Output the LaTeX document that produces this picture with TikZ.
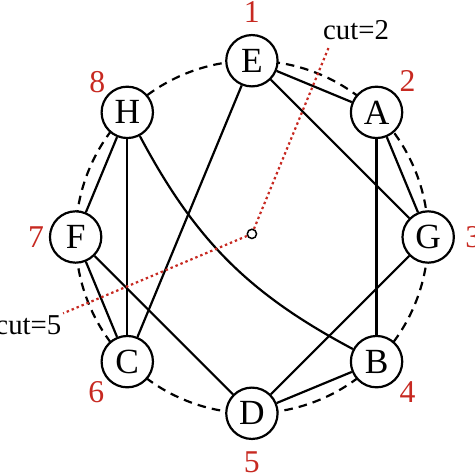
\documentclass[tikz,border=0pt]{standalone}
\usepackage{fontspec}
\setmainfont{Liberation Serif}
\usepackage{tikz}
\usetikzlibrary{positioning}
\tikzset{vertex/.style = {draw, circle, line width=0.9pt, fill=white,
                          minimum size=0.74cm, inner sep=0pt,
                          font=\fontsize{14.5}{16}\selectfont},
         ring/.style = {dash pattern=on 3.5pt off 2.5pt, line width=0.9pt},
         edge/.style = {line width=0.9pt},
         cutline/.style = {mred, dash pattern=on 1pt off 1.2pt, line width=0.9pt},
         num/.style = {mred, font=\fontsize{13}{15}\selectfont},
         cutlabel/.style = {inner sep=0pt, font=\fontsize{11.8}{13}\selectfont}}
\definecolor{mred}{rgb}{0.78, 0.16, 0.13}
\begin{document}
\begin{tikzpicture}
      \useasboundingbox (-3.63, -3.415) rectangle (3.20, 3.415);

      \draw [ring] (0, 0) circle (2.54);

      \node [vertex] (E) at (90:2.54) {E};
      \node [vertex] (A) at (45:2.54) {A};
      \node [vertex] (G) at (0:2.54) {G};
      \node [vertex] (B) at (-45:2.54) {B};
      \node [vertex] (D) at (-90:2.54) {D};
      \node [vertex] (C) at (-135:2.54) {C};
      \node [vertex] (F) at (180:2.54) {F};
      \node [vertex] (H) at (135:2.54) {H};

      \node [num] (n1) at (90:3.24) {1};
      \node [num] (n2) at (45:3.17) {2};
      \node [num] (n3) at (0:3.19) {3};
      \node [num] (n4) at (-45:3.17) {4};
      \node [num] (n5) at (-90:3.24) {5};
      \node [num] (n6) at (-135:3.17) {6};
      \node [num] (n7) at (180:3.11) {7};
      \node [num] (n8) at (135:3.15) {8};

      \draw [edge] (E) -- (A);
      \draw [edge] (E) -- (G);
      \draw [edge] (E) -- (C);
      \draw [edge] (A) -- (G);
      \draw [edge] (A) -- (B);
      \draw [edge] (H) -- (F);
      \draw [edge] (H) -- (C);
      \draw [edge] (H) to[bend right=17] (B);
      \draw [edge] (F) -- (C);
      \draw [edge] (F) -- (D);
      \draw [edge] (G) -- (D);
      \draw [edge] (B) -- (D);

      % cuts
      \node [draw, circle, line width=0.6pt, fill=white, inner sep=0pt,
             minimum size=3.8pt] (hub) at (0, 0.045) {};
      \coordinate (c2) at (1.11, 2.74);
      \coordinate (c5) at (-2.72, -1.10);
      \draw [cutline] (hub) -- (c2);
      \draw [cutline] (hub) -- (c5);
      \node [cutlabel, anchor=south west] (cut2) at (1.02, 2.84) {cut=2};
      \node [cutlabel, anchor=north east] (cut5) at (-2.74, -1.13) {cut=5};
    \end{tikzpicture}
\end{document}
